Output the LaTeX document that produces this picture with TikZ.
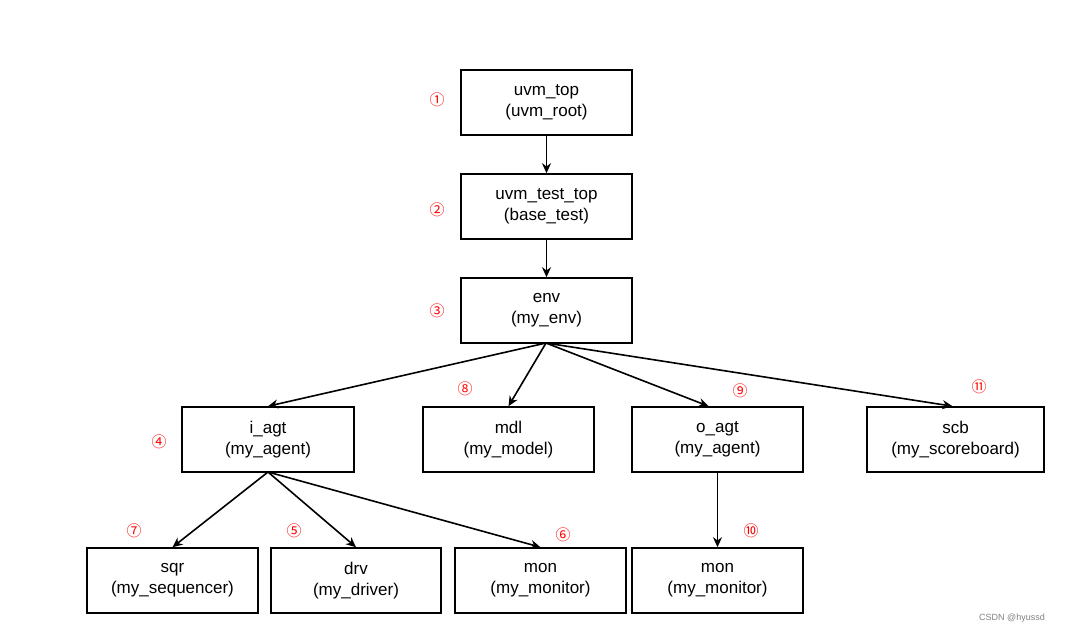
\documentclass[tikz,border=0pt]{standalone}
\usetikzlibrary{arrows.meta}
\usepackage{fontspec}
\setmainfont{Liberation Sans}
\newfontfamily\cjk{Noto Sans CJK SC}
\begin{document}
\begin{tikzpicture}[x=1pt,y=-1pt,
 box/.style={draw,line width=1.6pt,minimum width=171pt,minimum height=65pt,align=center,font=\fontsize{17}{21}\selectfont,inner sep=0pt},
 arr/.style={line width=1.6pt,-{Stealth[length=10pt,width=9pt]}},
 num/.style={text=red,font=\cjk\fontsize{15}{15}\selectfont}]
\useasboundingbox (0,0) rectangle (1070,635);
\node[box] (top) at (546.5,102.5) {uvm\_top\\(uvm\_root)};
\node[box] (test) at (546.5,206.5) {uvm\_test\_top\\(base\_test)};
\node[box] (env) at (546.5,310.5) {env\\(my\_env)};
\node[box,minimum width=172pt] (iagt) at (268,439.5) {i\_agt\\(my\_agent)};
\node[box] (mdl) at (508.5,439.5) {mdl\\(my\_model)};
\node[box] (oagt) at (717.5,439.5) {o\_agt\\(my\_agent)};
\node[box,minimum width=177pt] (scb) at (955.5,439.5) {scb\\(my\_scoreboard)};
\node[box] (sqr) at (172.5,580.5) {sqr\\(my\_sequencer)};
\node[box,minimum width=170pt] (drv) at (356,580.5) {drv\\(my\_driver)};
\node[box] (mon) at (540.5,580.5) {mon\\(my\_monitor)};
\node[box] (mon2) at (717.5,580.5) {mon\\(my\_monitor)};
\coordinate (eb) at (546,343);
\coordinate (ib) at (268,472);
\draw[arr] (top.south) -- (test.north);
\draw[arr] (test.south) -- (env.north);
\draw[arr] (eb) -- (iagt.north);
\draw[arr] (eb) -- (mdl.north);
\draw[arr] (eb) -- ([xshift=-9pt]oagt.north);
\draw[arr] (eb) -- ([xshift=-3pt]scb.north);
\draw[arr] (ib) -- (sqr.north);
\draw[arr] (ib) -- (drv.north);
\draw[arr] (ib) -- (mon.north);
\draw[arr] (oagt.south) -- (mon2.north);
\node[num] (n1) at (437,100) {①};
\node[num] (n2) at (437,210) {②};
\node[num] (n3) at (437,311) {③};
\node[num] (n4) at (159,442) {④};
\node[num] (n5) at (294,531) {⑤};
\node[num] (n6) at (563,535) {⑥};
\node[num] (n7) at (134,531) {⑦};
\node[num] (n8) at (465,389) {⑧};
\node[num] (n9) at (740,391) {⑨};
\node[num] (n10) at (751,531) {⑩};
\node[num] (n11) at (979,387) {⑪};
\node[text=gray,font=\fontsize{9}{9}\selectfont] (w) at (1012,618) {CSDN @hyussd};
\end{tikzpicture}
\end{document}
